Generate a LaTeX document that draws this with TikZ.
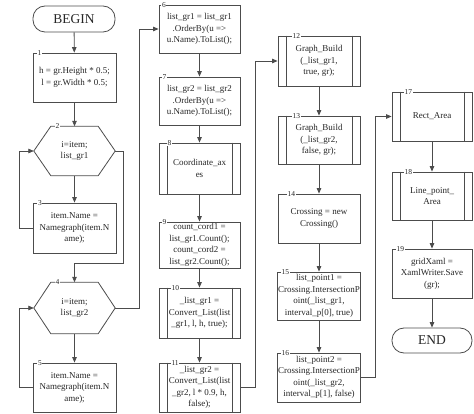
\documentclass[tikz,border=0pt]{standalone}
\usepackage{fontspec}
\setmainfont{Liberation Serif}
\usetikzlibrary{arrows.meta}
\begin{document}
\begin{tikzpicture}[x=1pt,y=-1pt,
  ln/.style={draw=black!70, line width=0.8pt},
  arr/.style={ln, -{Triangle[length=5.5pt,width=4.5pt]}},
  box/.style={ln, rectangle, inner sep=1pt, align=center,
    font=\fontsize{9}{11.5}\selectfont, text=black!85},
  hexnode/.style={rectangle, inner sep=1pt, align=center,
    font=\fontsize{9}{11.5}\selectfont, text=black!85},
  term/.style={ln, rectangle, rounded corners=12pt, align=center,
    font=\fontsize{13.5}{16}\selectfont, text=black!85},
  num/.style={fill=white, inner sep=0.7pt, anchor=west,
    font=\fontsize{7.5}{8}\selectfont, text=black!85},
  c1/.style={minimum width=83pt},
  c2/.style={minimum width=81pt},
  c3/.style={minimum width=82pt},
  c4/.style={minimum width=80pt}
]
\useasboundingbox (0,0) rectangle (474,414);

% column 1
\node[term, minimum width=82pt, minimum height=26pt] (begin) at (74,19) {BEGIN};
\node[box, c1, minimum height=49pt] (b1) at (74.5,77.5) {h = gr.Height * 0.5;\\[1pt]l = gr.Width * 0.5;};
\node[hexnode, minimum width=81pt, minimum height=49pt] (h2) at (74.5,151) {i=item;\\list\_gr1};
\node[box, c1, minimum height=50pt] (b3) at (74.5,228) {item.Name =\\Namegraph(item.N\\ame);};
\node[hexnode, minimum width=81pt, minimum height=51pt] (h4) at (74.5,308) {i=item;\\list\_gr2};
\node[box, c1, minimum height=49pt] (b5) at (74.5,387.5) {item.Name =\\Namegraph(item.N\\ame);};

% column 2
\node[box, c2, minimum height=48pt] (b6) at (199.5,29) {list\_gr1 = list\_gr1\\.OrderBy(u =>\\u.Name).ToList();};
\node[box, c2, minimum height=48pt] (b7) at (199.5,101) {list\_gr2 = list\_gr2\\.OrderBy(u =>\\u.Name).ToList();};
\node[box, c2, minimum height=51pt] (b8) at (199.5,168.5) {Coordinate\_ax\\es};
\node[box, c2, minimum height=46pt] (b9) at (199.5,245) {count\_cord1 =\\list\_gr1.Count();\\count\_cord2 =\\list\_gr2.Count();};
\node[box, c2, minimum height=50pt] (b10) at (199.5,313) {\_list\_gr1 =\\Convert\_List(list\\\_gr1, l, h, true);};
\node[box, c2, minimum height=49pt] (b11) at (199.5,387.5) {\_list\_gr2 =\\Convert\_List(list\\\_gr2, l * 0.9, h,\\false);};

% column 3
\node[box, c3, minimum height=50pt] (b12) at (319,61) {Graph\_Build\\(\_list\_gr1,\\true, gr);};
\node[box, c3, minimum height=48pt] (b13) at (319,140) {Graph\_Build\\(\_list\_gr2,\\false, gr);};
\node[box, c3, minimum height=49pt] (b14) at (319,218.5) {Crossing = new\\Crossing()};
\node[box, c3, minimum height=48pt] (b15) at (319,296) {list\_point1 =\\Crossing.IntersectionP\\oint(\_list\_gr1,\\interval\_p[0], true)};
\node[box, c3, minimum height=49pt] (b16) at (319,377.5) {list\_point2 =\\Crossing.IntersectionP\\oint(\_list\_gr2,\\interval\_p[1], false)};

% column 4
\node[box, c4, minimum height=49pt] (b17) at (432,116.5) {Rect\_Area};
\node[box, c4, minimum height=48pt] (b18) at (432,196) {Line\_point\_\\Area};
\node[box, c4, minimum height=49pt] (b19) at (432,273.5) {gridXaml =\\XamlWriter.Save\\(gr);};
\node[term, minimum width=80pt, minimum height=25pt] (end) at (432,340.5) {END};

% hexagons
\foreach \h in {h2,h4}
  \draw[ln] (\h.west) -- ([xshift=17pt]\h.north west) -- ([xshift=-17pt]\h.north east)
    -- (\h.east) -- ([xshift=-17pt]\h.south east) -- ([xshift=17pt]\h.south west) -- cycle;

% predefined-process bars
\foreach \n in {b8,b10,b11,b12,b13,b17,b18}
  \draw[ln] ([xshift=8.5pt]\n.north west) -- ([xshift=8.5pt]\n.south west)
            ([xshift=-8.5pt]\n.north east) -- ([xshift=-8.5pt]\n.south east);

% number labels
\node[num] (n1) at ([xshift=4pt]b1.north west) {1};
\node[num] (n2) at ([xshift=21pt]h2.north west) {2};
\node[num] (n3) at ([xshift=4.5pt]b3.north west) {3};
\node[num] (n4) at ([xshift=21pt]h4.north west) {4};
\node[num] (n5) at ([xshift=4.5pt]b5.north west) {5};
\node[num] (n6) at ([xshift=2.5pt]b6.north west) {6};
\node[num] (n7) at ([xshift=3pt]b7.north west) {7};
\node[num] (n8) at ([xshift=8pt]b8.north west) {8};
\node[num] (n9) at ([xshift=3pt]b9.north west) {9};
\node[num] (n10) at ([xshift=12pt]b10.north west) {10};
\node[num] (n11) at ([xshift=12pt]b11.north west) {11};
\node[num] (n12) at ([xshift=14pt]b12.north west) {12};
\node[num] (n13) at ([xshift=14pt]b13.north west) {13};
\node[num] (n14) at ([xshift=9pt]b14.north west) {14};
\node[num] (n15) at ([xshift=4pt]b15.north west) {15};
\node[num] (n16) at ([xshift=4pt]b16.north west) {16};
\node[num] (n17) at ([xshift=12pt]b17.north west) {17};
\node[num] (n18) at ([xshift=12pt]b18.north west) {18};
\node[num] (n19) at ([xshift=4pt]b19.north west) {19};

% connectors column 1
\draw[arr] (begin) -- (b1);
\draw[arr] (b1) -- (h2);
\draw[arr] (h2) -- (b3);
\draw[arr] (b3.west) -- ++(-13,0) |- (h2.west);
\draw[arr] (h2.east) -- ++(8,0) -- ++(0,112) -| (h4.north);
\draw[arr] (h4) -- (b5);
\draw[arr] (b5.west) -- ++(-13,0) |- (h4.west);
\draw[arr] (h4.east) -- ++(24,0) |- (b6.west);

% column 2
\draw[arr] (b6) -- (b7);
\draw[arr] (b7) -- (b8);
\draw[arr] (b8) -- (b9);
\draw[arr] (b9) -- (b10);
\draw[arr] (b10) -- (b11);
\draw[arr] (b11.east) -- ++(15,0) |- (b12.west);

% column 3
\draw[arr] (b12) -- (b13);
\draw[arr] (b13) -- (b14);
\draw[arr] (b14) -- (b15);
\draw[arr] (b15) -- (b16);
\draw[arr] (b16.east) -- ++(14,0) |- (b17.west);

% column 4
\draw[arr] (b17) -- (b18);
\draw[arr] (b18) -- (b19);
\draw[arr] (b19) -- (end);
\end{tikzpicture}
\end{document}
